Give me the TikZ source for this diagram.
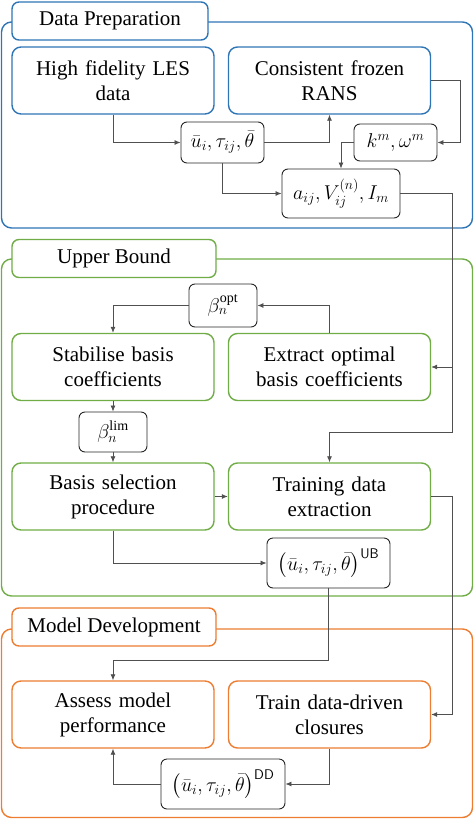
\documentclass[tikz,border=0pt]{standalone}
\usepackage{fix-cm}
\usepackage{amsmath}
\usepackage{fontspec}
\setmainfont{Liberation Serif}
\usepackage{tikz}
\usetikzlibrary{calc, arrows.meta}
\definecolor{dpblue}{RGB}{46,117,182}
\definecolor{ubgreen}{RGB}{112,173,71}
\definecolor{mdorange}{RGB}{237,125,49}
\definecolor{linegray}{RGB}{80,80,80}

\begin{document}
\begin{tikzpicture}[x=1pt,y=-1pt,font=\fontsize{21}{25}\selectfont,
    frame/.style={draw=#1,line width=1.4pt,rounded corners=10pt},
    title/.style={draw=#1,fill=white,line width=1.4pt,rounded corners=7pt,minimum width=204pt,minimum height=38pt},
    box/.style={draw=#1,line width=1.4pt,rounded corners=9pt,align=center,text width=186pt,inner xsep=8pt,minimum height=67pt},
    var/.style={draw=black!85,fill=white,line width=0.9pt,rounded corners=6pt,inner sep=1pt,minimum height=41pt,font=\fontsize{20}{25}\selectfont},
    conn/.style={draw=linegray,line width=0.8pt,-{Latex[length=6pt,width=5pt]}}]
    \useasboundingbox (0,0) rectangle (474,819);
    % frames
    \draw[frame=dpblue] (1.5,22) rectangle (472.5,228);
    \draw[frame=ubgreen] (1.5,259) rectangle (472.5,596);
    \draw[frame=mdorange] (1.5,629) rectangle (472.5,817.5);
    \node[title=dpblue,minimum width=196pt] (dptitle) at (110,21) {Data Preparation};
    \node[title=ubgreen] (ubtitle) at (114,258.5) {Upper Bound};
    \node[title=mdorange] (mdtitle) at (114,627) {Model Development};
    % data preparation
    \node[box=dpblue] (les) at (113,80.5) {High fidelity LES\\data};
    \node[box=dpblue] (rans) at (329.5,80.5) {Consistent frozen\\RANS};
    \node[var,minimum width=83pt] (flow) at (222.5,142.5) {$\bar{u}_i,\tau_{ij},\bar{\theta}$};
    \node[var,minimum width=83pt,minimum height=37pt] (km) at (395.5,142.5) {$k^m,\omega^m$};
    \node[var,minimum width=118pt,minimum height=49pt] (aij) at (341,193.5) {$a_{ij},V_{ij}^{(n)},I_m$};
    % upper bound
    \node[var,minimum width=68pt,minimum height=43pt] (bopt) at (223,305.5) {$\beta_n^{\mathrm{opt}}$};
    \node[box=ubgreen] (stab) at (113,367) {Stabilise basis\\coefficients};
    \node[box=ubgreen] (extr) at (329.5,367) {Extract optimal\\basis coefficients};
    \node[var,minimum width=68pt,minimum height=40pt] (blim) at (113,432) {$\beta_n^{\mathrm{lim}}$};
    \node[box=ubgreen] (basis) at (113,496.5) {Basis selection\\procedure};
    \node[box=ubgreen] (train) at (329.5,496.5) {Training data\\extraction};
    \node[var,minimum width=123pt,minimum height=50pt] (flowub) at (328.5,563) {$\left(\bar{u}_i,\tau_{ij},\bar{\theta}\right)^{\mathsf{UB}}$};
    % model development
    \node[box=mdorange] (assess) at (113,714.5) {Assess model\\performance};
    \node[box=mdorange] (trainc) at (329.5,714.5) {Train data-driven\\closures};
    \node[var,minimum width=124pt,minimum height=50pt] (flowdd) at (223,784) {$\left(\bar{u}_i,\tau_{ij},\bar{\theta}\right)^{\mathsf{DD}}$};
    \coordinate (bus) at (452,432);
    % data preparation lines
    \draw[conn] (les.south) |- (flow.west);
    \draw[conn] (flow.east) -| (rans.south);
    \draw[conn] (rans.east) -- ++(29,0) |- (km.east);
    \draw[conn] (km.west) -| (aij.north);
    \draw[conn] (flow.south) |- (aij.west);
    \draw[conn] (aij.east) -| (bus) -| (train.north);
    \draw[conn] (extr.east -| bus) -- (extr.east);
    % upper bound lines
    \draw[conn] (extr.north) |- (bopt.east);
    \draw[conn] (bopt.west) -| (stab.north);
    \draw[conn] (stab.south) -- (blim.north);
    \draw[conn] (blim.south) -- (basis.north);
    \draw[conn] (basis.east) -- (train.west);
    \draw[conn] (basis.south) |- (flowub.west);
    \draw[conn] (train.east) -- ++(21,0) |- (trainc.east);
    % model development lines
    \draw[conn] (flowub.south) -- ++(0,72) -| (assess.north);
    \draw[conn] (trainc.south) |- (flowdd.east);
    \draw[conn] (flowdd.west) -| (assess.south);
\end{tikzpicture}
\end{document}
